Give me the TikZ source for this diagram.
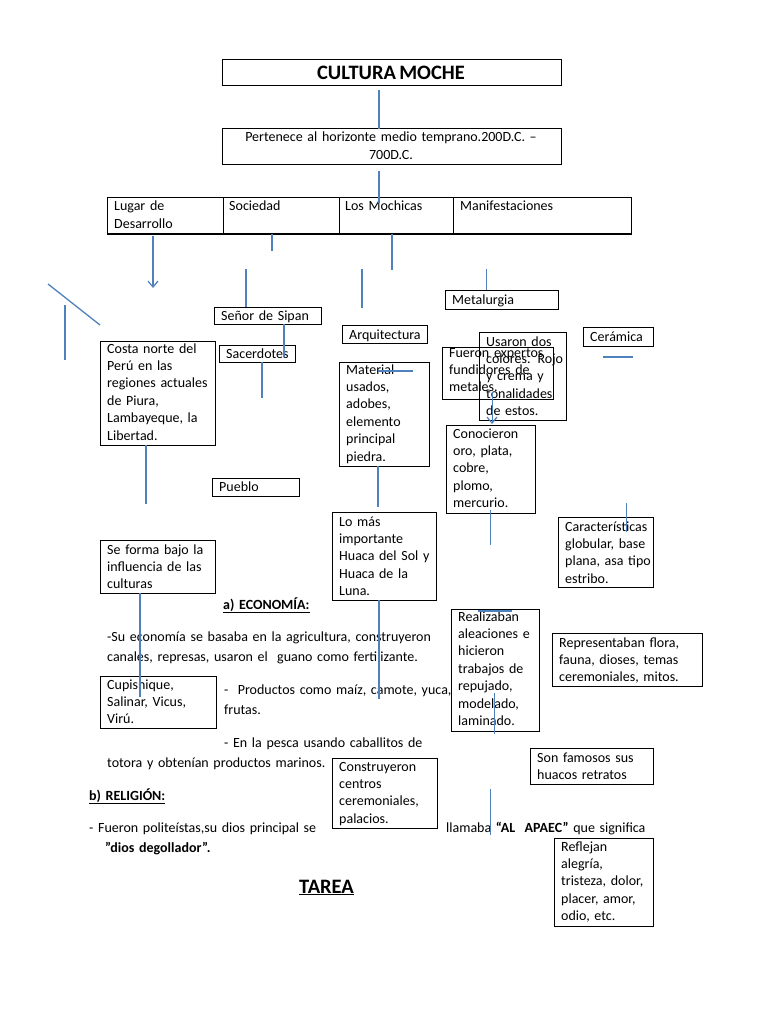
\documentclass[tikz,border=0pt]{standalone}
\usepackage{fontspec}
\setmainfont{Carlito}[WordSpace=0.7]
\usetikzlibrary{arrows.meta}
\definecolor{linkblue}{RGB}{79,129,189}
\tikzset{
  box/.style={draw=black, line width=1pt, inner sep=0pt, outer sep=0pt, anchor=north west},
  txt/.style={anchor=base west, inner sep=0pt, align=left, text width=400pt, font=\fontsize{14}{17.4}\selectfont},
  ctxt/.style={anchor=base, inner sep=0pt, align=center, text width=330pt, font=\fontsize{14}{17.4}\selectfont},
  lnk/.style={draw=linkblue, line width=1.3pt},
  thinlnk/.style={draw=linkblue, line width=0.9pt},
  tip/.style={-{Straight Barb[length=6pt,width=10pt,line width=1.2pt]}}
}
\newcommand\mybox[7]{%
  \node[box, minimum width=#4, minimum height=#5] (#1) at (#2,#3) {};
  \node[txt] (#1T) at (#2+7,#6) {#7};}
\begin{document}
\begin{tikzpicture}[x=1pt,y=-1pt]
\useasboundingbox (0,0) rectangle (768,1024);
\fill[white] (0,0) rectangle (768,1024);

% title and period
\node[box, minimum width=339, minimum height=26] (title) at (222,60) {};
\node[anchor=base, inner sep=0pt, font=\fontsize{20.5}{24}\selectfont\bfseries] (titleT) at (391,80) {CULTURA MOCHE};
\node[box, minimum width=339, minimum height=36] (period) at (222,129) {};
\node[ctxt] (periodT) at (391,142) {Pertenece al horizonte medio temprano.200D.C. –\\700D.C.};

% row of four cells
\node[box, minimum width=116, minimum height=36] (lugar) at (107,198) {};
\node[box, minimum width=116, minimum height=36] (sociedad) at (223,198) {};
\node[box, minimum width=114, minimum height=36] (mochicas) at (339,198) {};
\node[box, minimum width=178, minimum height=36] (manif) at (453,198) {};
\node[txt] (lugarT) at (114,211) {Lugar de\\Desarrollo};
\node[txt] (sociedadT) at (229,211) {Sociedad};
\node[txt] (mochicasT) at (345,211) {Los Mochicas};
\node[txt] (manifT) at (460,211) {Manifestaciones};

% boxes
\mybox{senor}{214}{307}{107}{17}{320}{Señor de Sipan}
\mybox{sacer}{219}{345}{76}{17}{358}{Sacerdotes}
\mybox{costa}{100}{341}{115}{104}{353}{Costa norte del\\Perú en las\\regiones actuales\\de Piura,\\Lambayeque, la\\Libertad.}
\mybox{pueblo}{212}{478}{87}{18}{491}{Pueblo}
\mybox{forma}{100}{540}{115}{53}{554}{Se forma bajo la\\influencia de las\\culturas}
\mybox{cupis}{100}{676}{116}{52}{689}{Cupisnique,\\Salinar, Vicus,\\Virú.}
\mybox{arqui}{342}{325}{85}{18}{339}{Arquitectura}
\mybox{mater}{339}{362}{90}{104}{374}{Material\\usados,\\adobes,\\elemento\\principal\\piedra.}
\mybox{huaca}{332}{512}{104}{88}{526}{Lo más\\importante\\Huaca del Sol y\\Huaca de la\\Luna.}
\mybox{metal}{445}{290}{113}{19}{304}{Metalurgia}
\mybox{fueron}{442}{347}{111}{52}{357}{Fueron expertos\\fundidores de\\metales.}
\mybox{usaron}{479}{332}{87}{88}{346}{Usaron dos\\colores. Rojo\\y crema y\\tonalidades\\de estos.}
\mybox{ceram}{583}{327}{70}{19}{341}{Cerámica}
\mybox{conoc}{446}{425}{89}{88}{438}{Conocieron\\oro, plata,\\cobre,\\plomo,\\mercurio.}
\mybox{caract}{558}{517}{95}{70}{531}{Características\\globular, base\\plana, asa tipo\\estribo.}
\mybox{realiz}{451}{609}{88}{122}{621}{Realizaban\\aleaciones e\\hicieron\\trabajos de\\repujado,\\modelado,\\laminado.}
\mybox{repres}{552}{633}{150}{53}{647}{Representaban flora,\\fauna, dioses, temas\\ceremoniales, mitos.}
\mybox{famosos}{530}{748}{123}{36}{762}{Son famosos sus\\huacos retratos}
\mybox{constr}{332}{758}{105}{70}{771}{Construyeron\\centros\\ceremoniales,\\palacios.}
\mybox{reflej}{554}{838}{99}{88}{851}{Reflejan\\alegría,\\tristeza, dolor,\\placer, amor,\\odio, etc.}

% free text
\node[txt] (econ) at (223,609) {\textbf{\underline{a) ECONOMÍA:}}};
\node[txt] (econ1) at (107,641) {-Su economía se basaba en la agricultura, construyeron};
\node[txt] (econ2) at (107,661) {canales, represas, usaron el~ guano como fertilizante.};
\node[txt] (econ3) at (224,694) {-~ Productos como maíz, camote, yuca,};
\node[txt] (econ4) at (224,714) {frutas.};
\node[txt] (econ5) at (224,747) {- En la pesca usando caballitos de};
\node[txt] (econ6) at (107,767) {totora y obtenían productos marinos.};
\node[txt] (relig) at (89,800) {\textbf{\underline{b) RELIGIÓN:}}};
\node[txt] (relig1) at (89,832) {- Fueron politeístas,su dios principal se};
\node[txt, text width=300pt] (relig2) at (446,832) {llamaba \textbf{“AL~ APAEC”} que significa};
\node[txt] (relig3) at (105,852) {\textbf{”dios degollador”.}};
\node[anchor=base west, inner sep=0pt, font=\fontsize{20.5}{24}\selectfont\bfseries] (tarea) at (299,893) {\underline{TAREA}};

% loose connector ends
\coordinate (p1a) at (379,90);   \coordinate (p1b) at (379,129);
\coordinate (p2a) at (379,171);  \coordinate (p2b) at (379,203);
\coordinate (a1a) at (153,236);  \coordinate (a1b) at (153,288);
\coordinate (p3a) at (272,234);  \coordinate (p3b) at (272,251);
\coordinate (p4a) at (246,269);  \coordinate (p4b) at (246,307);
\coordinate (p5a) at (392,234);  \coordinate (p5b) at (392,270);
\coordinate (p6a) at (362,269);  \coordinate (p6b) at (362,308);
\coordinate (p7a) at (486,269);  \coordinate (p7b) at (486,290);
\coordinate (d1a) at (48,284);   \coordinate (d1b) at (100,325);
\coordinate (p8a) at (65,305);   \coordinate (p8b) at (65,360);
\coordinate (p9a) at (284,324);  \coordinate (p9b) at (284,357);
\coordinate (p10a) at (262,362); \coordinate (p10b) at (262,398);
\coordinate (p11a) at (146,445); \coordinate (p11b) at (146,504);
\coordinate (p12a) at (140,593); \coordinate (p12b) at (140,697);
\coordinate (h1a) at (378,371);  \coordinate (h1b) at (413,371);
\coordinate (p13a) at (378,466); \coordinate (p13b) at (378,507);
\coordinate (p14a) at (379,600); \coordinate (p14b) at (379,699);
\coordinate (a2a) at (492,392);  \coordinate (a2b) at (492,424);
\coordinate (h2a) at (603,357);  \coordinate (h2b) at (633,357);
\coordinate (p15a) at (490,510); \coordinate (p15b) at (490,545);
\coordinate (p16a) at (626,503); \coordinate (p16b) at (626,532);
\coordinate (h3a) at (478,611);  \coordinate (h3b) at (512,611);
\coordinate (p17a) at (494,693); \coordinate (p17b) at (494,734);
\coordinate (p18a) at (490,789); \coordinate (p18b) at (490,835);

\draw[lnk] (p1a) -- (p1b);
\draw[lnk] (p2a) -- (p2b);
\draw[lnk, tip] (a1a) -- (a1b);
\draw[lnk] (p3a) -- (p3b);
\draw[lnk] (p4a) -- (p4b);
\draw[lnk] (p5a) -- (p5b);
\draw[lnk] (p6a) -- (p6b);
\draw[thinlnk] (p7a) -- (p7b);
\draw[lnk] (d1a) -- (d1b);
\draw[lnk] (p8a) -- (p8b);
\draw[lnk] (p9a) -- (p9b);
\draw[lnk] (p10a) -- (p10b);
\draw[lnk] (p11a) -- (p11b);
\draw[lnk] (p12a) -- (p12b);
\draw[lnk] (h1a) -- (h1b);
\draw[lnk] (p13a) -- (p13b);
\draw[lnk] (p14a) -- (p14b);
\draw[thinlnk, tip] (a2a) -- (a2b);
\draw[lnk] (h2a) -- (h2b);
\draw[thinlnk] (p15a) -- (p15b);
\draw[thinlnk] (p16a) -- (p16b);
\draw[lnk] (h3a) -- (h3b);
\draw[thinlnk] (p17a) -- (p17b);
\draw[thinlnk] (p18a) -- (p18b);
\end{tikzpicture}
\end{document}
